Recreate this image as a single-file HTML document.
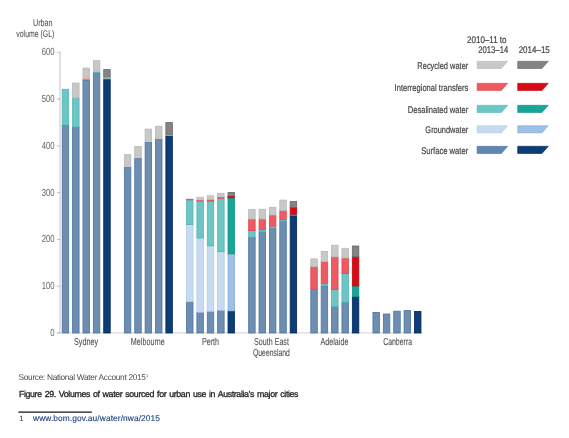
<!DOCTYPE html><html><head><meta charset="utf-8"><style>html,body{margin:0;padding:0;background:#fff;width:569px;height:438px;overflow:hidden}svg{display:block;will-change:transform}text{font-family:"Liberation Sans", sans-serif;text-rendering:geometricPrecision}</style></head><body>
<svg width="569" height="438" viewBox="0 0 569 438">
<g fill="none" stroke="#c9c9c9" stroke-width="1">
<line x1="60.0" y1="52.3" x2="60.0" y2="333" stroke-width="1.2" stroke="#d0cece"/>
</g>
<line x1="57" y1="332.9" x2="423" y2="332.9" stroke="#d2d2d2" stroke-width="1"/>
<line x1="57" y1="333.00" x2="60.5" y2="333.00" stroke="#bdbdbd" stroke-width="1"/>
<line x1="57" y1="286.22" x2="60.5" y2="286.22" stroke="#bdbdbd" stroke-width="1"/>
<line x1="57" y1="239.44" x2="60.5" y2="239.44" stroke="#bdbdbd" stroke-width="1"/>
<line x1="57" y1="192.66" x2="60.5" y2="192.66" stroke="#bdbdbd" stroke-width="1"/>
<line x1="57" y1="145.88" x2="60.5" y2="145.88" stroke="#bdbdbd" stroke-width="1"/>
<line x1="57" y1="99.10" x2="60.5" y2="99.10" stroke="#bdbdbd" stroke-width="1"/>
<line x1="57" y1="52.32" x2="60.5" y2="52.32" stroke="#bdbdbd" stroke-width="1"/>
<rect x="62.20" y="125.10" width="6.5" height="207.90" fill="#6d8eb1" stroke="#4b74a2" stroke-width="0.8"/>
<rect x="62.20" y="89.30" width="6.5" height="35.80" fill="#6cc6c6" stroke="#55b3b3" stroke-width="0.8"/>
<rect x="72.58" y="127.00" width="6.5" height="206.00" fill="#6d8eb1" stroke="#4b74a2" stroke-width="0.8"/>
<rect x="72.58" y="98.00" width="6.5" height="29.00" fill="#6cc6c6" stroke="#55b3b3" stroke-width="0.8"/>
<rect x="72.58" y="83.10" width="6.5" height="14.90" fill="#c8c8c8" stroke="#b8b8b8" stroke-width="0.8"/>
<rect x="82.96" y="80.00" width="6.5" height="253.00" fill="#6d8eb1" stroke="#4b74a2" stroke-width="0.8"/>
<rect x="82.96" y="68.10" width="6.5" height="9.90" fill="#c8c8c8" stroke="#b8b8b8" stroke-width="0.8"/>
<rect x="82.56" y="78.90" width="7.30" height="1.10" fill="#4fc0c6"/>
<rect x="82.56" y="78.00" width="7.30" height="1.00" fill="#f0ada2"/>
<rect x="93.34" y="72.80" width="6.5" height="260.20" fill="#6d8eb1" stroke="#4b74a2" stroke-width="0.8"/>
<rect x="93.34" y="60.70" width="6.5" height="10.20" fill="#c8c8c8" stroke="#b8b8b8" stroke-width="0.8"/>
<rect x="92.94" y="71.70" width="7.30" height="1.10" fill="#4fc0c6"/>
<rect x="92.94" y="70.90" width="7.30" height="1.00" fill="#f0ada2"/>
<rect x="103.72" y="79.40" width="6.5" height="253.60" fill="#0b3e74" stroke="#05265a" stroke-width="0.8"/>
<rect x="103.72" y="69.60" width="6.5" height="7.90" fill="#838383" stroke="#666666" stroke-width="0.8"/>
<rect x="103.32" y="78.30" width="7.30" height="1.10" fill="#14a89a"/>
<rect x="103.32" y="77.50" width="7.30" height="0.80" fill="#f0ada2"/>
<rect x="124.35" y="166.80" width="6.5" height="166.20" fill="#6d8eb1" stroke="#4b74a2" stroke-width="0.8"/>
<rect x="124.35" y="154.70" width="6.5" height="11.50" fill="#c8c8c8" stroke="#b8b8b8" stroke-width="0.8"/>
<rect x="123.95" y="166.20" width="7.30" height="0.60" fill="#f1d3c8"/>
<rect x="134.73" y="158.10" width="6.5" height="174.90" fill="#6d8eb1" stroke="#4b74a2" stroke-width="0.8"/>
<rect x="134.73" y="146.40" width="6.5" height="11.20" fill="#c8c8c8" stroke="#b8b8b8" stroke-width="0.8"/>
<rect x="134.33" y="157.60" width="7.30" height="0.50" fill="#f1d3c8"/>
<rect x="145.11" y="141.90" width="6.5" height="191.10" fill="#6d8eb1" stroke="#4b74a2" stroke-width="0.8"/>
<rect x="145.11" y="129.10" width="6.5" height="12.30" fill="#c8c8c8" stroke="#b8b8b8" stroke-width="0.8"/>
<rect x="144.71" y="141.40" width="7.30" height="0.50" fill="#f1d3c8"/>
<rect x="155.49" y="138.70" width="6.5" height="194.30" fill="#6d8eb1" stroke="#4b74a2" stroke-width="0.8"/>
<rect x="155.49" y="126.20" width="6.5" height="12.00" fill="#c8c8c8" stroke="#b8b8b8" stroke-width="0.8"/>
<rect x="155.09" y="138.20" width="7.30" height="0.50" fill="#f1d3c8"/>
<rect x="165.87" y="135.80" width="6.5" height="197.20" fill="#0b3e74" stroke="#05265a" stroke-width="0.8"/>
<rect x="165.87" y="122.60" width="6.5" height="12.70" fill="#838383" stroke="#666666" stroke-width="0.8"/>
<rect x="165.47" y="135.30" width="7.30" height="0.50" fill="#f1d3c8"/>
<rect x="186.50" y="301.70" width="6.5" height="31.30" fill="#6d8eb1" stroke="#4b74a2" stroke-width="0.8"/>
<rect x="186.50" y="224.60" width="6.5" height="77.10" fill="#c6dbf1" stroke="#b2cbe6" stroke-width="0.8"/>
<rect x="186.50" y="200.00" width="6.5" height="24.60" fill="#6cc6c6" stroke="#55b3b3" stroke-width="0.8"/>
<rect x="186.25" y="199.00" width="7.00" height="1.00" fill="#ee5a61" stroke="#e04850" stroke-width="0.3"/>
<rect x="196.88" y="312.20" width="6.5" height="20.80" fill="#6d8eb1" stroke="#4b74a2" stroke-width="0.8"/>
<rect x="196.88" y="238.00" width="6.5" height="74.20" fill="#c6dbf1" stroke="#b2cbe6" stroke-width="0.8"/>
<rect x="196.88" y="201.60" width="6.5" height="36.40" fill="#6cc6c6" stroke="#55b3b3" stroke-width="0.8"/>
<rect x="196.88" y="197.30" width="6.5" height="3.00" fill="#c8c8c8" stroke="#b8b8b8" stroke-width="0.8"/>
<rect x="196.63" y="200.30" width="7.00" height="1.30" fill="#ee5a61" stroke="#e04850" stroke-width="0.3"/>
<rect x="207.26" y="311.30" width="6.5" height="21.70" fill="#6d8eb1" stroke="#4b74a2" stroke-width="0.8"/>
<rect x="207.26" y="245.80" width="6.5" height="65.50" fill="#c6dbf1" stroke="#b2cbe6" stroke-width="0.8"/>
<rect x="207.26" y="201.40" width="6.5" height="44.40" fill="#6cc6c6" stroke="#55b3b3" stroke-width="0.8"/>
<rect x="207.26" y="195.80" width="6.5" height="4.20" fill="#c8c8c8" stroke="#b8b8b8" stroke-width="0.8"/>
<rect x="207.01" y="200.00" width="7.00" height="1.40" fill="#ee5a61" stroke="#e04850" stroke-width="0.3"/>
<rect x="217.64" y="310.30" width="6.5" height="22.70" fill="#6d8eb1" stroke="#4b74a2" stroke-width="0.8"/>
<rect x="217.64" y="251.70" width="6.5" height="58.60" fill="#c6dbf1" stroke="#b2cbe6" stroke-width="0.8"/>
<rect x="217.64" y="198.70" width="6.5" height="53.00" fill="#6cc6c6" stroke="#55b3b3" stroke-width="0.8"/>
<rect x="217.64" y="193.30" width="6.5" height="4.00" fill="#c8c8c8" stroke="#b8b8b8" stroke-width="0.8"/>
<rect x="217.39" y="197.30" width="7.00" height="1.40" fill="#ee5a61" stroke="#e04850" stroke-width="0.3"/>
<rect x="228.02" y="310.90" width="6.5" height="22.10" fill="#0b3e74" stroke="#05265a" stroke-width="0.8"/>
<rect x="228.02" y="253.80" width="6.5" height="57.10" fill="#9ec0e7" stroke="#88afdc" stroke-width="0.8"/>
<rect x="228.02" y="198.00" width="6.5" height="55.80" fill="#17a597" stroke="#0c9283" stroke-width="0.8"/>
<rect x="228.02" y="192.40" width="6.5" height="3.80" fill="#838383" stroke="#666666" stroke-width="0.8"/>
<rect x="227.77" y="196.20" width="7.00" height="1.80" fill="#d80a14" stroke="#c0060f" stroke-width="0.3"/>
<rect x="248.65" y="237.20" width="6.5" height="95.80" fill="#6d8eb1" stroke="#4b74a2" stroke-width="0.8"/>
<rect x="248.65" y="230.60" width="6.5" height="6.60" fill="#6cc6c6" stroke="#55b3b3" stroke-width="0.8"/>
<rect x="248.65" y="219.00" width="6.5" height="11.60" fill="#ee5a61" stroke="#e04850" stroke-width="0.8"/>
<rect x="248.65" y="209.60" width="6.5" height="9.40" fill="#c8c8c8" stroke="#b8b8b8" stroke-width="0.8"/>
<rect x="259.03" y="231.70" width="6.5" height="101.30" fill="#6d8eb1" stroke="#4b74a2" stroke-width="0.8"/>
<rect x="259.03" y="219.00" width="6.5" height="11.10" fill="#ee5a61" stroke="#e04850" stroke-width="0.8"/>
<rect x="259.03" y="209.20" width="6.5" height="9.80" fill="#c8c8c8" stroke="#b8b8b8" stroke-width="0.8"/>
<rect x="258.63" y="230.10" width="7.30" height="1.60" fill="#4fc0c6"/>
<rect x="269.41" y="228.30" width="6.5" height="104.70" fill="#6d8eb1" stroke="#4b74a2" stroke-width="0.8"/>
<rect x="269.41" y="215.00" width="6.5" height="11.70" fill="#ee5a61" stroke="#e04850" stroke-width="0.8"/>
<rect x="269.41" y="207.30" width="6.5" height="7.70" fill="#c8c8c8" stroke="#b8b8b8" stroke-width="0.8"/>
<rect x="269.01" y="226.70" width="7.30" height="1.60" fill="#4fc0c6"/>
<rect x="279.79" y="221.50" width="6.5" height="111.50" fill="#6d8eb1" stroke="#4b74a2" stroke-width="0.8"/>
<rect x="279.79" y="210.70" width="6.5" height="9.40" fill="#ee5a61" stroke="#e04850" stroke-width="0.8"/>
<rect x="279.79" y="200.10" width="6.5" height="10.60" fill="#c8c8c8" stroke="#b8b8b8" stroke-width="0.8"/>
<rect x="279.39" y="220.10" width="7.30" height="1.40" fill="#4fc0c6"/>
<rect x="290.17" y="215.80" width="6.5" height="117.20" fill="#0b3e74" stroke="#05265a" stroke-width="0.8"/>
<rect x="290.17" y="207.50" width="6.5" height="7.50" fill="#d80a14" stroke="#c0060f" stroke-width="0.8"/>
<rect x="290.17" y="201.60" width="6.5" height="5.90" fill="#838383" stroke="#666666" stroke-width="0.8"/>
<rect x="289.77" y="214.70" width="7.30" height="1.10" fill="#14a89a"/>
<rect x="310.80" y="289.60" width="6.5" height="43.40" fill="#6d8eb1" stroke="#4b74a2" stroke-width="0.8"/>
<rect x="310.80" y="266.80" width="6.5" height="22.80" fill="#ee5a61" stroke="#e04850" stroke-width="0.8"/>
<rect x="310.80" y="258.90" width="6.5" height="7.90" fill="#c8c8c8" stroke="#b8b8b8" stroke-width="0.8"/>
<rect x="321.18" y="285.90" width="6.5" height="47.10" fill="#6d8eb1" stroke="#4b74a2" stroke-width="0.8"/>
<rect x="321.18" y="261.70" width="6.5" height="22.40" fill="#ee5a61" stroke="#e04850" stroke-width="0.8"/>
<rect x="321.18" y="251.50" width="6.5" height="10.20" fill="#c8c8c8" stroke="#b8b8b8" stroke-width="0.8"/>
<rect x="320.78" y="284.10" width="7.30" height="1.80" fill="#4fc0c6"/>
<rect x="331.56" y="306.70" width="6.5" height="26.30" fill="#6d8eb1" stroke="#4b74a2" stroke-width="0.8"/>
<rect x="331.56" y="289.30" width="6.5" height="17.40" fill="#6cc6c6" stroke="#55b3b3" stroke-width="0.8"/>
<rect x="331.56" y="256.90" width="6.5" height="32.40" fill="#ee5a61" stroke="#e04850" stroke-width="0.8"/>
<rect x="331.56" y="245.20" width="6.5" height="11.70" fill="#c8c8c8" stroke="#b8b8b8" stroke-width="0.8"/>
<rect x="341.94" y="302.20" width="6.5" height="30.80" fill="#6d8eb1" stroke="#4b74a2" stroke-width="0.8"/>
<rect x="341.94" y="273.60" width="6.5" height="28.60" fill="#6cc6c6" stroke="#55b3b3" stroke-width="0.8"/>
<rect x="341.94" y="258.00" width="6.5" height="15.60" fill="#ee5a61" stroke="#e04850" stroke-width="0.8"/>
<rect x="341.94" y="248.30" width="6.5" height="9.70" fill="#c8c8c8" stroke="#b8b8b8" stroke-width="0.8"/>
<rect x="352.32" y="296.70" width="6.5" height="36.30" fill="#0b3e74" stroke="#05265a" stroke-width="0.8"/>
<rect x="352.32" y="285.90" width="6.5" height="10.80" fill="#17a597" stroke="#0c9283" stroke-width="0.8"/>
<rect x="352.32" y="256.90" width="6.5" height="29.00" fill="#d80a14" stroke="#c0060f" stroke-width="0.8"/>
<rect x="352.32" y="246.00" width="6.5" height="10.90" fill="#838383" stroke="#666666" stroke-width="0.8"/>
<rect x="372.95" y="312.40" width="6.5" height="20.60" fill="#6d8eb1" stroke="#4b74a2" stroke-width="0.8"/>
<rect x="383.33" y="314.00" width="6.5" height="19.00" fill="#6d8eb1" stroke="#4b74a2" stroke-width="0.8"/>
<rect x="393.71" y="311.20" width="6.5" height="21.80" fill="#6d8eb1" stroke="#4b74a2" stroke-width="0.8"/>
<rect x="404.09" y="310.60" width="6.5" height="22.40" fill="#6d8eb1" stroke="#4b74a2" stroke-width="0.8"/>
<rect x="414.47" y="311.40" width="6.5" height="21.60" fill="#0b3e74" stroke="#05265a" stroke-width="0.8"/>
<g transform="translate(52.6,25.6) scale(0.7496,1)"><text x="0" y="0" font-size="9.6" fill="#555658" text-anchor="end" stroke="#555658" stroke-width="0.1">Urban</text></g>
<g transform="translate(54.3,36.9) scale(0.7195,1)"><text x="0" y="0" font-size="9.6" fill="#555658" text-anchor="end" stroke="#555658" stroke-width="0.1">volume (GL)</text></g>
<g transform="translate(54.6,335.90) scale(0.7580,1)"><text x="0" y="0" font-size="10.2" fill="#6a6b6e" text-anchor="end" stroke="#6a6b6e" stroke-width="0.05">0</text></g>
<g transform="translate(54.6,289.12) scale(0.7580,1)"><text x="0" y="0" font-size="10.2" fill="#6a6b6e" text-anchor="end" stroke="#6a6b6e" stroke-width="0.05">100</text></g>
<g transform="translate(54.6,242.34) scale(0.7580,1)"><text x="0" y="0" font-size="10.2" fill="#6a6b6e" text-anchor="end" stroke="#6a6b6e" stroke-width="0.05">200</text></g>
<g transform="translate(54.6,195.56) scale(0.7580,1)"><text x="0" y="0" font-size="10.2" fill="#6a6b6e" text-anchor="end" stroke="#6a6b6e" stroke-width="0.05">300</text></g>
<g transform="translate(54.6,148.78) scale(0.7580,1)"><text x="0" y="0" font-size="10.2" fill="#6a6b6e" text-anchor="end" stroke="#6a6b6e" stroke-width="0.05">400</text></g>
<g transform="translate(54.6,102.00) scale(0.7580,1)"><text x="0" y="0" font-size="10.2" fill="#6a6b6e" text-anchor="end" stroke="#6a6b6e" stroke-width="0.05">500</text></g>
<g transform="translate(54.6,55.22) scale(0.7580,1)"><text x="0" y="0" font-size="10.2" fill="#6a6b6e" text-anchor="end" stroke="#6a6b6e" stroke-width="0.05">600</text></g>
<g transform="translate(86.1,345.1) scale(0.7183,1)"><text x="0" y="0" font-size="10.1" fill="#4f5052" text-anchor="middle" stroke="#4f5052" stroke-width="0.1">Sydney</text></g>
<g transform="translate(147.8,345.1) scale(0.7124,1)"><text x="0" y="0" font-size="10.1" fill="#4f5052" text-anchor="middle" stroke="#4f5052" stroke-width="0.1">Melbourne</text></g>
<g transform="translate(210.5,345.1) scale(0.7125,1)"><text x="0" y="0" font-size="10.1" fill="#4f5052" text-anchor="middle" stroke="#4f5052" stroke-width="0.1">Perth</text></g>
<g transform="translate(334.4,345.1) scale(0.7123,1)"><text x="0" y="0" font-size="10.1" fill="#4f5052" text-anchor="middle" stroke="#4f5052" stroke-width="0.1">Adelaide</text></g>
<g transform="translate(397.6,345.1) scale(0.6863,1)"><text x="0" y="0" font-size="10.1" fill="#4f5052" text-anchor="middle" stroke="#4f5052" stroke-width="0.1">Canberra</text></g>
<g transform="translate(271.5,345.3) scale(0.7043,1)"><text x="0" y="0" font-size="10.1" fill="#4f5052" text-anchor="middle" stroke="#4f5052" stroke-width="0.1">South East</text></g>
<g transform="translate(271.4,356.3) scale(0.6756,1)"><text x="0" y="0" font-size="10.1" fill="#4f5052" text-anchor="middle" stroke="#4f5052" stroke-width="0.1">Queensland</text></g>
<g transform="translate(506.5,43.0) scale(0.8259,1)"><text x="0" y="0" font-size="9.7" fill="#444547" text-anchor="end" stroke="#444547" stroke-width="0.2">2010–11 to</text></g>
<g transform="translate(508.2,53.4) scale(0.7944,1)"><text x="0" y="0" font-size="9.7" fill="#444547" text-anchor="end" stroke="#444547" stroke-width="0.2">2013–14</text></g>
<g transform="translate(549.8,53.4) scale(0.8262,1)"><text x="0" y="0" font-size="9.7" fill="#444547" text-anchor="end" stroke="#444547" stroke-width="0.2">2014–15</text></g>
<g transform="translate(468.3,68.50) scale(0.7691,1)"><text x="0" y="0" font-size="9.7" fill="#444547" text-anchor="end" stroke="#444547" stroke-width="0.2">Recycled water</text></g>
<polygon points="477.1,61.30 507.70,61.30 501.40,68.50 477.1,68.50" fill="#c8c8c8" stroke="#b8b8b8" stroke-width="0.6"/>
<polygon points="517.7,61.30 548.30,61.30 542.00,68.50 517.7,68.50" fill="#838383" stroke="#666666" stroke-width="0.6"/>
<g transform="translate(468.3,90.50) scale(0.7822,1)"><text x="0" y="0" font-size="9.7" fill="#444547" text-anchor="end" stroke="#444547" stroke-width="0.2">Interregional transfers</text></g>
<polygon points="477.1,83.30 507.70,83.30 501.40,90.50 477.1,90.50" fill="#ee5a61" stroke="#e04850" stroke-width="0.6"/>
<polygon points="517.7,83.30 548.30,83.30 542.00,90.50 517.7,90.50" fill="#d80a14" stroke="#c0060f" stroke-width="0.6"/>
<g transform="translate(468.3,112.50) scale(0.7805,1)"><text x="0" y="0" font-size="9.7" fill="#444547" text-anchor="end" stroke="#444547" stroke-width="0.2">Desalinated water</text></g>
<polygon points="477.1,105.30 507.70,105.30 501.40,112.50 477.1,112.50" fill="#6cc6c6" stroke="#55b3b3" stroke-width="0.6"/>
<polygon points="517.7,105.30 548.30,105.30 542.00,112.50 517.7,112.50" fill="#17a597" stroke="#0c9283" stroke-width="0.6"/>
<g transform="translate(468.3,132.90) scale(0.7668,1)"><text x="0" y="0" font-size="9.7" fill="#444547" text-anchor="end" stroke="#444547" stroke-width="0.2">Groundwater</text></g>
<polygon points="477.1,125.70 507.70,125.70 501.40,132.90 477.1,132.90" fill="#c6dbf1" stroke="#b2cbe6" stroke-width="0.6"/>
<polygon points="517.7,125.70 548.30,125.70 542.00,132.90 517.7,132.90" fill="#9ec0e7" stroke="#88afdc" stroke-width="0.6"/>
<g transform="translate(468.3,153.50) scale(0.7887,1)"><text x="0" y="0" font-size="9.7" fill="#444547" text-anchor="end" stroke="#444547" stroke-width="0.2">Surface water</text></g>
<polygon points="477.1,146.30 507.70,146.30 501.40,153.50 477.1,153.50" fill="#6186b0" stroke="#4b74a2" stroke-width="0.6"/>
<polygon points="517.7,146.30 548.30,146.30 542.00,153.50 517.7,153.50" fill="#0b3e74" stroke="#05265a" stroke-width="0.6"/>
<text x="18.6" y="380.0" font-size="8.3" fill="#4d4d4f" textLength="127.3" lengthAdjust="spacing">Source: National Water Account 2015</text>
<text x="146.1" y="377.2" font-size="3.9" fill="#4d4d4f">1</text>
<text x="18.9" y="396.8" font-size="8.8" fill="#231f20" textLength="279.6" lengthAdjust="spacing" stroke="#231f20" stroke-width="0.3" style="word-spacing:0.9px">Figure 29. Volumes of water sourced for urban use in Australia&#8217;s major cities</text>
<line x1="18.4" y1="412.1" x2="91.8" y2="412.1" stroke="#141414" stroke-width="1.05"/>
<text x="19.3" y="421.1" font-size="7.6" fill="#333333">1</text>
<text x="33.0" y="421.2" font-size="8.4" fill="#1b4283" textLength="127.0" lengthAdjust="spacing" stroke="#1b4283" stroke-width="0.12">www.bom.gov.au/water/nwa/2015</text>
</svg></body></html>
